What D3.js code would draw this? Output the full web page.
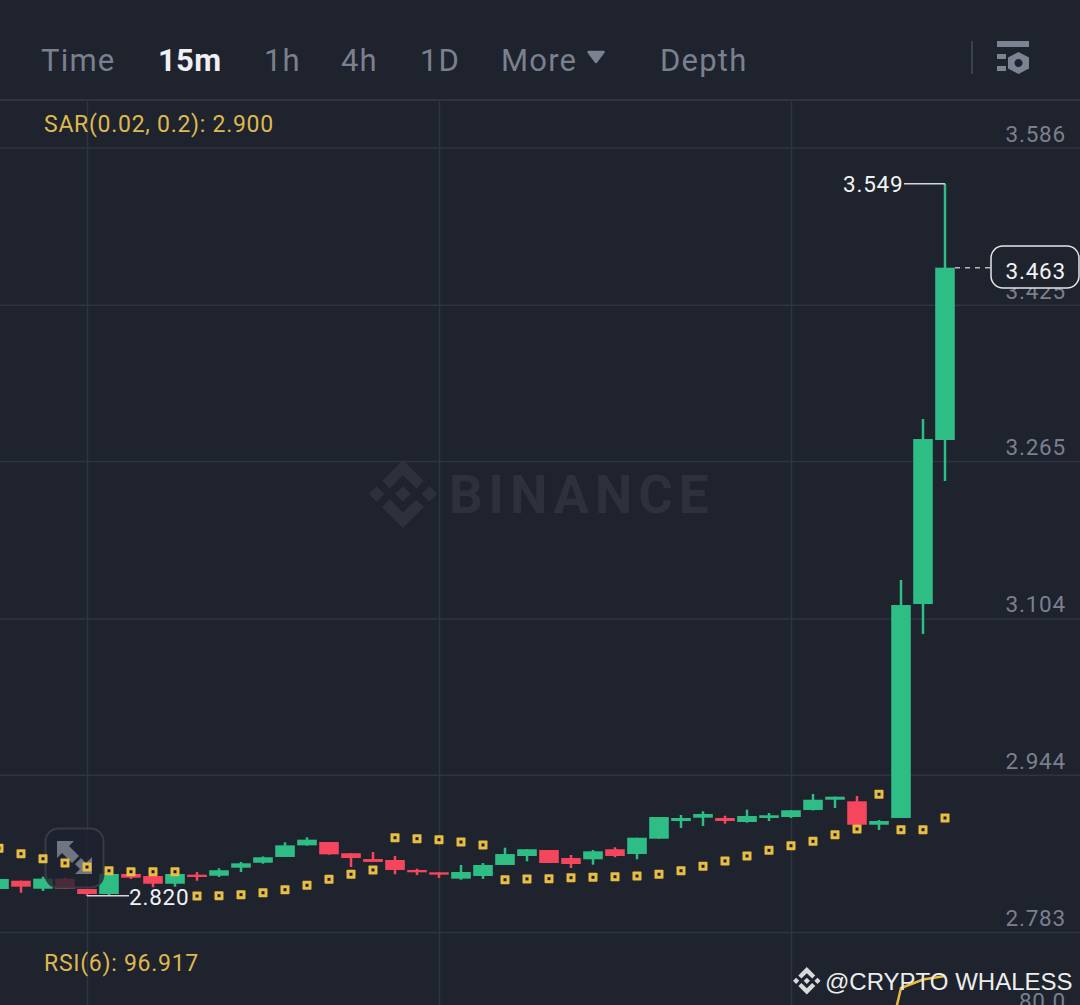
<!DOCTYPE html>
<html lang="en">
<head>
    <meta charset="UTF-8">
    <title>15m candlestick chart</title>
    <style>
        html, body {
            margin: 0;
            padding: 0;
            width: 1080px;
            height: 1005px;
            overflow: hidden;
            background-color: #1e232e;
        }

        svg {
            display: block;
        }

        text {
            font-family: Roboto, sans-serif;
        }

        .grid line {
            stroke: #2f3440;
            stroke-width: 1.5px;
        }

        .grid .domain {
            display: none;
        }

        .price-axis .domain {
            display: none;
        }

        .price-axis text, .rsi-axis text {
            font-size: 22.5px;
            letter-spacing: 0.8px;
            fill: #7a808e;
        }

        .legend {
            font-size: 23px;
            letter-spacing: 0.72px;
            fill: #dfb84f;
        }

        .tab {
            font-size: 31px;
            letter-spacing: 1.2px;
            fill: #7a808e;
        }

        .tab.active {
            font-weight: 700;
            letter-spacing: 0.3px;
            fill: #eef0f3;
        }

        .marker {
            font-size: 22.5px;
            letter-spacing: 0.8px;
            fill: #f1f2f4;
        }
    </style>
    <script src="https://d3js.org/d3.v7.min.js"></script>
</head>
<body>
    <div id="chart"></div>

    <script>
        // candles, oldest first, first one is cut by the left edge
        const open = [2.8270, 2.8355, 2.8273, 2.8376, 2.8270, 2.8219, 2.8424, 2.8403, 2.8324, 2.8417, 2.8406, 2.8488, 2.8539, 2.8598, 2.8717, 2.8751, 2.8636, 2.8577, 2.8567, 2.8465, 2.8441, 2.8376, 2.8403, 2.8516, 2.8608, 2.8669, 2.8587, 2.8574, 2.8677, 2.8628, 2.8785, 2.8966, 2.9000, 2.8997, 2.8956, 2.8997, 2.9007, 2.9079, 2.9184, 2.9168, 2.8928, 2.8997, 3.1187, 3.2866];
        const close = [2.8373, 2.8294, 2.8376, 2.8273, 2.8219, 2.8424, 2.8386, 2.8324, 2.8424, 2.8393, 2.8462, 2.8533, 2.8595, 2.8717, 2.8775, 2.8625, 2.8587, 2.8547, 2.8465, 2.8441, 2.8417, 2.8444, 2.8516, 2.8628, 2.8677, 2.8536, 2.8526, 2.8656, 2.8608, 2.8795, 2.9007, 2.8997, 2.9038, 2.8966, 2.9017, 2.9025, 2.9076, 2.9184, 2.9215, 2.8928, 2.8966, 3.1177, 3.2876, 3.463];
        const high = [2.8373, 2.8355, 2.8396, 2.8386, 2.8270, 2.8437, 2.8475, 2.8431, 2.8457, 2.8444, 2.8482, 2.8547, 2.8603, 2.8748, 2.8799, 2.8751, 2.8636, 2.8649, 2.8608, 2.8478, 2.8441, 2.8516, 2.8536, 2.8693, 2.8677, 2.8669, 2.8618, 2.8669, 2.8697, 2.8795, 2.9007, 2.9028, 2.9065, 2.9020, 2.9082, 2.9048, 2.9076, 2.9243, 2.9215, 2.9222, 2.8976, 3.1433, 3.3081, 3.549];
        const low = [2.8270, 2.8232, 2.8250, 2.8273, 2.820, 2.8206, 2.8373, 2.8288, 2.8294, 2.8355, 2.8393, 2.8444, 2.8529, 2.8598, 2.8713, 2.8621, 2.8495, 2.8547, 2.8421, 2.8413, 2.8383, 2.8365, 2.8373, 2.8516, 2.8554, 2.8536, 2.8485, 2.8519, 2.8595, 2.8574, 2.8785, 2.8895, 2.8915, 2.8939, 2.8949, 2.8966, 2.8997, 2.9074, 2.9099, 2.8925, 2.8874, 2.8997, 3.0880, 3.2446];
        const sar = [2.8687, 2.8631, 2.8580, 2.8536, 2.8495, 2.8457, 2.8447, 2.8447, 2.8447, 2.8198, 2.8202, 2.8212, 2.8232, 2.8263, 2.8308, 2.8369, 2.8421, 2.8465, 2.8795, 2.8785, 2.8775, 2.8751, 2.8721, 2.8365, 2.8373, 2.8376, 2.8386, 2.8390, 2.8396, 2.8403, 2.8421, 2.8457, 2.8503, 2.8557, 2.8608, 2.8666, 2.8713, 2.8758, 2.8826, 2.8884, 2.9240, 2.8877, 2.8877, 2.8997];
        // only the last candles of the RSI line reach into the visible part
        const rsi = [51.3, 91.7, 95.4, 96.917];

        const priceTicks = [3.586, 3.425, 3.265, 3.104, 2.944, 2.783];
        const rsiTicks = [80];
        const timeGrid = [4, 20, 36];

        const tabLabels = ["Time", "15m", "1h", "4h", "1D", "More", "Depth"];
        const tabX = [41, 158, 264, 341, 420, 501, 660];
        const activeTab = "15m";

        const sarLabel = "SAR(0.02, 0.2): 2.900";
        const rsiLabel = "RSI(6): 96.917";
        const lastPrice = 3.463;
        const highPrice = 3.549;
        const lowPrice = 2.820;
        const wideMark = "BINANCE";
        const credit = "@CRYPTO WHALESS";

        const width = 1080, height = 1005;
        const green = "#2ebd85", red = "#f6465d", gold = "#e8bd45", bg = "#1e232e";
        const logoPath = "M38.73 53.2l24.59-24.58 24.6 24.6 14.3-14.31L63.32 0 24.42 38.9zM0 63.31l14.3-14.31 14.31 14.31-14.31 14.3zM38.73 73.41l24.59 24.59 24.6-24.6 14.31 14.29-38.9 38.91-38.91-38.88-.02-.02zM98 63.31l14.3-14.31 14.31 14.3-14.31 14.32zM77.83 63.3L63.32 48.78 52.59 59.51l-1.24 1.23-2.54 2.54 14.51 14.5 14.51-14.47z";

        const x = d3.scaleLinear().domain([0, open.length - 1]).range([-1, 945]);
        const y = d3.scaleLinear().domain([2.783, 3.586]).range([932, 147.5]);
        const yRsi = d3.scaleLinear().domain([80, 96.917]).range([1015, 976]);
        const bodyW = 19.6;

        const svg = d3.select("#chart").append("svg")
            .attr("width", width)
            .attr("height", height);

        // header
        svg.append("line").attr("x1", 0).attr("x2", width).attr("y1", 100).attr("y2", 100)
            .attr("stroke", "#2f3440").attr("stroke-width", 2);

        svg.selectAll(".tab").data(tabLabels).enter().append("text")
            .attr("class", d => d === activeTab ? "tab active" : "tab")
            .attr("x", (d, i) => tabX[i])
            .attr("y", 71)
            .text(d => d);

        svg.append("path").attr("d", "M588.5 52H603.5L596 62Z")
            .attr("fill", "#7b8290").attr("stroke", "#7b8290").attr("stroke-width", 2.5).attr("stroke-linejoin", "round");

        svg.append("line").attr("x1", 972).attr("x2", 972).attr("y1", 41).attr("y2", 74)
            .attr("stroke", "#3a404c").attr("stroke-width", 2);

        const gear = svg.append("g").attr("fill", "#7c8494");
        gear.append("rect").attr("x", 997).attr("y", 41).attr("width", 32).attr("height", 6);
        gear.append("rect").attr("x", 997).attr("y", 54).attr("width", 9).attr("height", 5);
        gear.append("rect").attr("x", 997).attr("y", 66).attr("width", 9).attr("height", 5);
        gear.append("path")
            .attr("fill-rule", "evenodd")
            .attr("d", "M1018.5 52L1029 57.5V68.5L1018.5 74L1008 68.5V57.5ZM1018.5 59a4 4 0 1 0 .01 0Z");

        // grid
        svg.append("g").attr("class", "grid")
            .call(d3.axisRight(y).tickValues(priceTicks).tickSize(width).tickFormat(""));
        svg.append("g").attr("class", "grid")
            .attr("transform", "translate(0,100)")
            .call(d3.axisBottom(x).tickValues(timeGrid).tickSize(height - 100).tickFormat(""));

        // watermark
        svg.append("path").attr("d", logoPath).attr("fill", "#2c313c")
            .attr("transform", "translate(369,460) scale(0.537)");
        svg.append("text").attr("x", 449).attr("y", 513)
            .attr("fill", "#2c313c")
            .style("font-size", "53px")
            .style("font-weight", 700)
            .style("letter-spacing", "5.8px")
            .text(wideMark);

        // price labels
        const priceAxis = svg.append("g").attr("class", "price-axis")
            .attr("transform", "translate(1066,0)")
            .call(d3.axisLeft(y).tickValues(priceTicks).tickSize(0).tickPadding(0).tickFormat(d3.format(".3f")));
        priceAxis.selectAll("text").attr("dy", "-6.5px");

        const rsiAxis = svg.append("g").attr("class", "rsi-axis")
            .attr("transform", "translate(1066,0)")
            .call(d3.axisLeft(yRsi).tickValues(rsiTicks).tickSize(0).tickPadding(0).tickFormat(d3.format(".1f")));
        rsiAxis.select(".domain").remove();
        rsiAxis.selectAll("text").attr("dy", "-6.5px");

        // candles
        const candles = svg.append("g").selectAll("g").data(open).enter().append("g")
            .attr("fill", (d, i) => close[i] >= open[i] ? green : red);
        candles.append("rect")
            .attr("x", (d, i) => x(i) - 1.25)
            .attr("width", 2.5)
            .attr("y", (d, i) => y(high[i]))
            .attr("height", (d, i) => y(low[i]) - y(high[i]));
        candles.append("rect")
            .attr("x", (d, i) => x(i) - bodyW / 2)
            .attr("width", bodyW)
            .attr("y", (d, i) => y(Math.max(open[i], close[i])))
            .attr("height", (d, i) => Math.max(1.5, Math.abs(y(open[i]) - y(close[i]))));

        // expand button sits over the candles
        svg.append("rect").attr("x", 45.5).attr("y", 828.5).attr("width", 58).attr("height", 59).attr("rx", 13)
            .attr("fill", bg).attr("fill-opacity", 0.78)
            .attr("stroke", "#363b46").attr("stroke-width", 2);
        svg.append("path").attr("fill", "#6f7582")
            .attr("d", "M57 841H74L69 846L79 856L72 863L62 853L57 858Z");
        svg.append("path").attr("fill", "#6f7582")
            .attr("d", "M92 874H75L80 869L75 864L81 858L86 863L92 857Z");

        // SAR dots
        const dots = svg.append("g").selectAll("g").data(sar).enter().append("g")
            .attr("transform", (d, i) => `translate(${x(i)},${y(d)})`);
        dots.append("rect").attr("x", -4.5).attr("y", -4.5).attr("width", 9).attr("height", 9).attr("rx", 0.8).attr("fill", gold);
        dots.append("rect").attr("x", -1.5).attr("y", -1.5).attr("width", 3).attr("height", 3).attr("fill", "#1e1c1c");

        // RSI line
        const rsiLine = d3.line().x(d => x(d.i)).y(d => yRsi(d.v));
        svg.append("path")
            .datum(rsi.map((v, k) => ({ i: open.length - rsi.length + k, v: v })))
            .attr("d", rsiLine)
            .attr("fill", "none")
            .attr("stroke", "#e9b93a")
            .attr("stroke-width", 2.5);

        // legends
        svg.append("text").attr("class", "legend").attr("x", 44).attr("y", 132).text(sarLabel);
        svg.append("text").attr("class", "legend").attr("x", 44).attr("y", 971).text(rsiLabel);

        // high and low markers
        const hiIdx = high.indexOf(highPrice), loIdx = low.indexOf(lowPrice);
        svg.append("line").attr("x1", 904).attr("x2", x(hiIdx)).attr("y1", y(highPrice)).attr("y2", y(highPrice))
            .attr("stroke", "#d5d7db").attr("stroke-width", 1.5);
        svg.append("text").attr("class", "marker").attr("x", 903.5).attr("y", y(highPrice) + 8)
            .attr("text-anchor", "end").text(d3.format(".3f")(highPrice));
        svg.append("line").attr("x1", x(loIdx)).attr("x2", 129).attr("y1", y(lowPrice)).attr("y2", y(lowPrice))
            .attr("stroke", "#d5d7db").attr("stroke-width", 1.5);
        svg.append("text").attr("class", "marker").attr("x", 129).attr("y", y(lowPrice) + 9)
            .text(d3.format(".3f")(lowPrice));

        // last price box
        svg.append("line").attr("x1", 955).attr("x2", 991).attr("y1", y(lastPrice)).attr("y2", y(lastPrice))
            .attr("stroke", "#b5b8be").attr("stroke-width", 1.5).attr("stroke-dasharray", "5 5");
        svg.append("rect").attr("x", 991).attr("y", 246).attr("width", 88).attr("height", 42).attr("rx", 12)
            .attr("fill", bg).attr("stroke", "#e4e6e9").attr("stroke-width", 1.5);
        svg.append("text").attr("class", "marker").attr("x", 1066).attr("y", 279)
            .attr("text-anchor", "end").text(d3.format(".3f")(lastPrice));

        // credit stamp
        svg.append("path").attr("d", logoPath).attr("fill", "#d8d9db")
            .attr("transform", "translate(793,967) scale(0.218)");
        svg.append("text").attr("x", 825).attr("y", 990)
            .attr("fill", "#eceded")
            .style("font-family", "'Liberation Sans', sans-serif")
            .style("font-size", "24px")
            .text(credit);
    </script>
</body>
</html>
